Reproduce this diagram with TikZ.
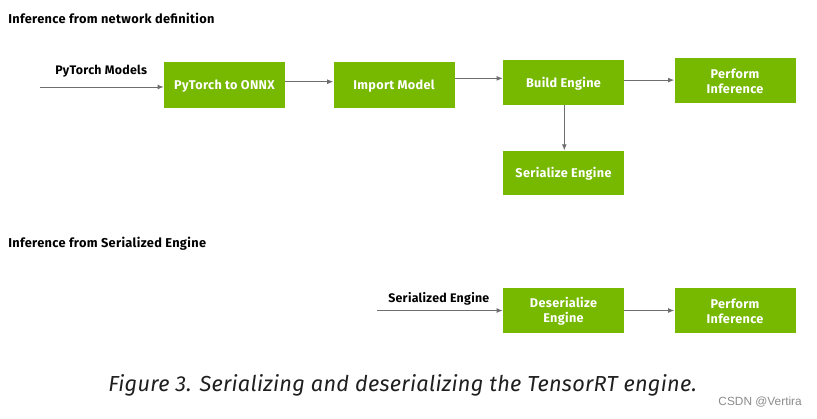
\documentclass[tikz,border=0pt]{standalone}
\usepackage{fontspec}
\setmainfont{Fira Sans}
\usetikzlibrary{arrows.meta}
\definecolor{nvgreen}{HTML}{76B900}
\definecolor{linegray}{HTML}{6E6E6E}
\newcommand{\padtop}{\rule{0pt}{8.9pt}}
\tikzset{
  x=0.75pt,y=-0.75pt,
  box/.style={fill=nvgreen,draw=none,minimum width=90.75pt,inner sep=0pt,align=center,text=white,font=\fontsize{9.5}{11.5}\selectfont\addfontfeatures{LetterSpace=2.6}\bfseries},
  lbl/.style={inner sep=0pt,anchor=west,text=black,font=\fontsize{9.3}{11}\selectfont\addfontfeatures{LetterSpace=2.2}\bfseries},
  ttl/.style={inner sep=0pt,anchor=west,text=black,font=\fontsize{9.6}{11}\selectfont\addfontfeatures{LetterSpace=2.6}\bfseries},
  conn/.style={draw=linegray,line width=0.7pt,-{Latex[length=4.5pt,width=3.6pt]}}
}
\begin{document}
\begin{tikzpicture}
\useasboundingbox (0,0) rectangle (817,418);
\fill[white] (0,0) rectangle (817,418);
\node[ttl] (t1) at (8,18) {Inference from network definition};
\node[ttl] (t2) at (8,243.5) {Inference from Serialized Engine};
\node[lbl] (l1) at (55,71) {PyTorch Models};
\node[lbl] (l2) at (388,298.5) {Serialized Engine};
\node[box,minimum height=34.5pt] (py) at (224.5,85.3) {\padtop PyTorch to ONNX};
\node[box,minimum height=34.5pt] (imp) at (394,85.3) {\padtop Import Model};
\node[box,minimum height=34pt] (bld) at (563.5,82.5) {\padtop Build Engine};
\node[box,minimum height=33.5pt] (ser) at (563.5,173) {\padtop Serialize Engine};
\node[box,minimum height=33.5pt] (pf1) at (735,80.3) {\padtop Perform\\Inference};
\node[box,minimum height=34pt] (des) at (563.5,310.5) {\padtop Deserialize\\Engine};
\node[box,minimum height=34pt] (pf2) at (735,310.5) {\padtop Perform\\Inference};
\coordinate (s1) at (40,87);
\coordinate (s2) at (377,310.5);
\draw[conn] (s1) -- (s1 -| py.west);
\draw[conn] ([yshift=2.7pt]py.east) -- ([yshift=2.7pt]py.east -| imp.west);
\draw[conn] ([yshift=5.2pt]imp.east) -- ([yshift=5.2pt]imp.east -| bld.west);
\draw[conn] ([yshift=1.8pt]bld.east) -- ([yshift=1.8pt]bld.east -| pf1.west);
\draw[conn] ([xshift=0.6pt]bld.south) -- ([xshift=0.6pt]ser.north);
\draw[conn] (s2) -- (s2 -| des.west);
\draw[conn] (des.east) -- (pf2.west);
\node[inner sep=0pt,anchor=west,text=black!88,font=\fontsize{16.3}{18}\selectfont\addfontfeatures{LetterSpace=1.3}\itshape\fontseries{l}\selectfont] (cap) at (108,385.5) {Figure 3. Serializing and deserializing the TensorRT engine.};
\node[inner sep=0pt,anchor=east,text=black!45,font=\fontsize{8.9}{10}\selectfont] (wm) at (802,402.5) {\fontspec{Liberation Sans}CSDN @Vertira};
\end{tikzpicture}
\end{document}
